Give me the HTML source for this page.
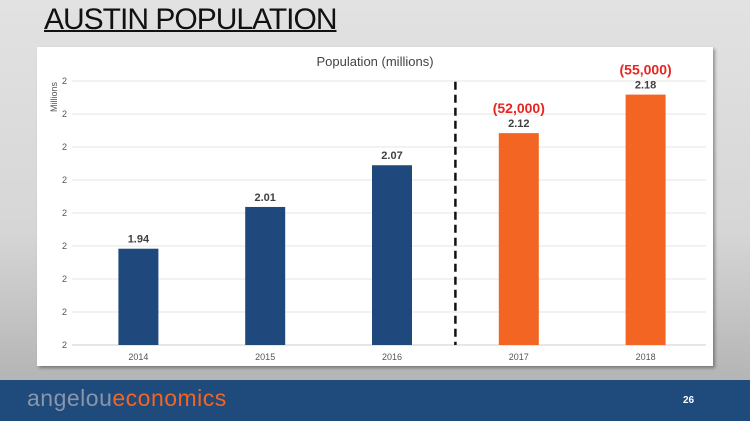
<!DOCTYPE html>
<html><head><meta charset="utf-8"><style>
body{margin:0;width:750px;height:421px;overflow:hidden;font-family:"Liberation Sans",sans-serif;background:linear-gradient(180deg,#e2e2e2 0%,#d6d6d6 55%,#b5b5b5 90%);position:relative}
#title{position:absolute;left:44px;top:3px;font-size:30px;color:#111;text-decoration:underline;text-decoration-thickness:2px;letter-spacing:-1px}
#panel{position:absolute;left:37px;top:47px;width:676px;height:319px;background:#fff;box-shadow:2px 2px 3px rgba(0,0,0,.35)}
#footer{position:absolute;left:0;top:380px;width:750px;height:41px;background:#1f4a7c}
#logo{position:absolute;left:27px;top:385px;font-size:23px;color:#8a96a8;letter-spacing:0.5px}
#logo span{color:#f26522}
#pg{position:absolute;left:683px;top:395px;font-size:10px;font-weight:bold;color:#fff}
</style></head><body>
<div id="title">AUSTIN POPULATION</div>
<div id="panel"></div>
<svg id="chart" width="750" height="421" style="position:absolute;left:0;top:0"></svg>
<div id="footer"></div>
<div id="logo">angelou<span>economics</span></div>
<div id="pg">26</div>
<script>
const categories=["2014","2015","2016","2017","2018"];
const values=[1.94,2.005,2.07,2.12,2.18];
const labels=["1.94","2.01","2.07","2.12","2.18"];
const growth=["","","","(52,000)","(55,000)"];
const tickLabels=["2","2","2","2","2","2","2","2","2"];
const yMin=1.79,yStep=0.0514;
const ns="http://www.w3.org/2000/svg";
const svg=document.getElementById('chart');
const x0=72,x1=706,yBase=345,gridPx=33;
const y=v=>yBase-(v-yMin)/yStep*gridPx;
const band=(x1-x0)/categories.length;
const xc=i=>x0+band*(i+0.5)+3;
function mk(t,a){const e=document.createElementNS(ns,t);for(const k in a)e.setAttribute(k,a[k]);svg.appendChild(e);return e;}
let t=mk('text',{x:375,y:66,'font-size':13,fill:'#444','text-anchor':'middle'});t.textContent='Population (millions)';


t=mk('text',{x:0,y:0,'font-size':9,fill:'#555','text-anchor':'middle',transform:'translate(57,97) rotate(-90)'});t.textContent='Millions';


tickLabels.forEach((l,k)=>{
 const yy=y(yMin+k*yStep);
 const g=mk('line',{x1:x0,x2:x1,y1:yy,y2:yy,stroke:k==0?'#ccc':'#e6e6e6','stroke-width':1});
 
 
 const tt=mk('text',{x:67,y:yy+3,'font-size':9,fill:'#555','text-anchor':'end'});tt.textContent=l;
 
 
});
categories.forEach((c,i)=>{
 const top=y(values[i]);
 const r=mk('rect',{x:xc(i)-20,y:top,width:40,height:yBase-top,fill:i<3?'#1f497d':'#f26522'});
 
 
 const v=mk('text',{x:xc(i),y:top-6,'font-size':11,'font-weight':'bold',fill:'#404040','text-anchor':'middle'});v.textContent=labels[i];
 
 
 if(growth[i]){const g=mk('text',{x:xc(i),y:top-20,'font-size':14,'font-weight':'bold',fill:'#e8251f','text-anchor':'middle'});g.textContent=growth[i];
 
 }
 const xl=mk('text',{x:xc(i),y:360,'font-size':9,fill:'#555','text-anchor':'middle'});xl.textContent=c;
 
 
});
const d=mk('line',{x1:(xc(2)+xc(3))/2,x2:(xc(2)+xc(3))/2,y1:y(2.2),y2:yBase,stroke:'#111','stroke-width':2.5,'stroke-dasharray':'8,5'});


</script>
</body></html>
